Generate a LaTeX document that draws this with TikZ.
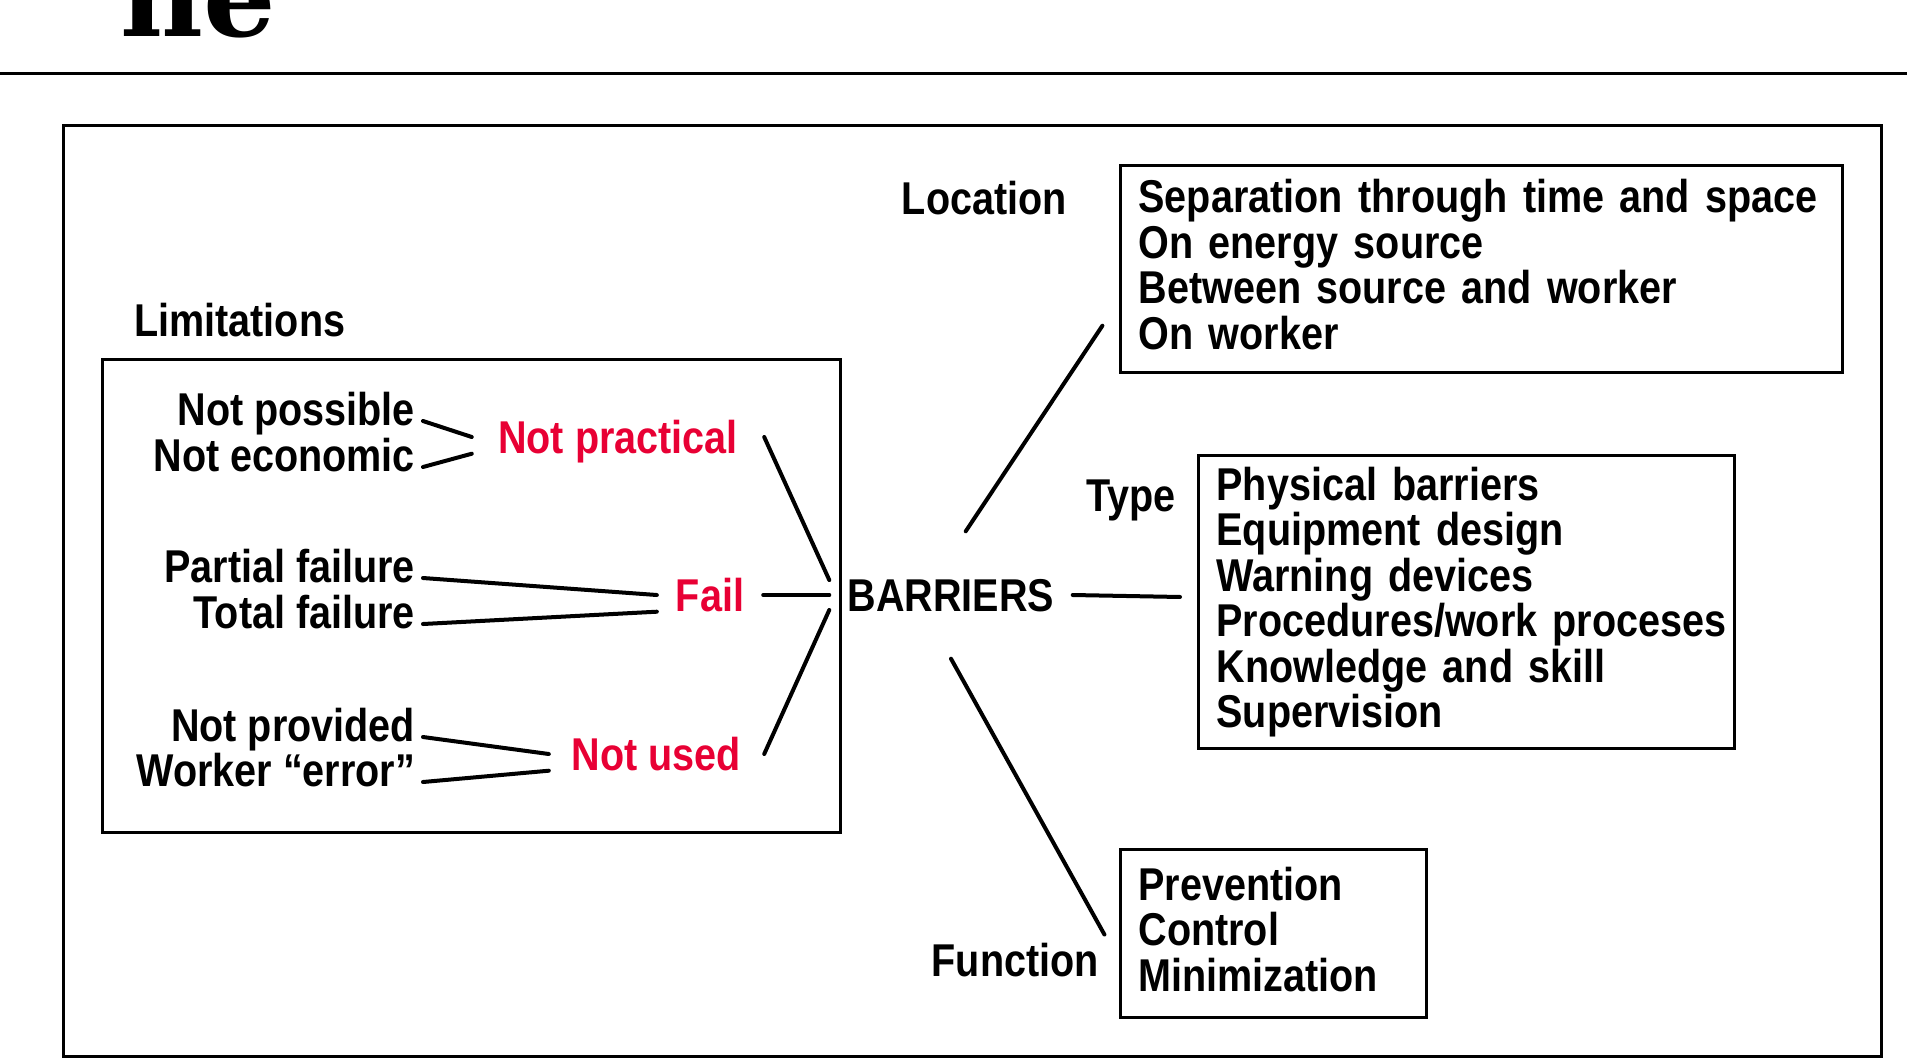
\documentclass[tikz,border=0pt]{standalone}
\usepackage{fontspec}
\setmainfont{Liberation Sans}[FakeStretch=0.86]
\newfontfamily\titlefont{DejaVu Serif}
\definecolor{barred}{RGB}{232,0,52}
\begin{document}
\begin{tikzpicture}[x=1pt,y=-1pt,
  every node/.style={font=\bfseries\fontsize{46}{45.5}\selectfont},
  item/.style={anchor=base east,text height=18pt,text depth=9pt,inner sep=0pt,outer xsep=8pt},
  why/.style={anchor=base,text=barred,text height=33pt,text depth=0pt,inner sep=0pt},
  head/.style={inner sep=0pt},
  list/.style={draw,line width=3pt,anchor=north west,align=left,inner xsep=18pt,inner ysep=0pt,
    execute at end node={\rule[-9pt]{0pt}{9pt}}},
  conn/.style={line width=4pt,line cap=round}]
\useasboundingbox (0,0) rectangle (1907,1061);
% slide title (cut off at the top) and rule
\node[anchor=base west,inner sep=0pt,font=\titlefont\bfseries\fontsize{114}{114}\selectfont] (title) at (120,36) {ne};
\draw[line width=3pt] (0,73) -- (1907,73);
\draw[line width=3pt] (63,125) rectangle (1881,1056);
% limitations side
\node[head,anchor=base west] (limits) at (134,336.5) {Limitations};
\draw[line width=3pt] (102,359) rectangle (840,832);
\node[item] (nposs) at (423,425.5) {Not possible};
\node[item] (necon) at (423,471.5) {Not economic};
\node[item] (pfail) at (423,582.5) {Partial failure};
\node[item] (tfail) at (423,628.5) {Total failure};
\node[item] (nprov) at (423,741.5) {Not provided};
\node[item] (werr) at (423,786.5) {Worker “error”};
\node[why,minimum width=292pt] (prac) at (618,453.5) {Not practical};
\node[why,minimum width=106pt] (fail) at (710,611.5) {Fail};
\node[why,minimum width=215pt] (nused) at (656.5,770.5) {Not used};
\draw[conn] (nposs.east) -- (prac.west);
\draw[conn] (necon.east) -- (prac.south west);
\draw[conn] (pfail.east) -- (fail.west);
\draw[conn] (tfail.east) -- (fail.south west);
\draw[conn] (nprov.east) -- (nused.west);
\draw[conn] (werr.east) -- (nused.south west);
% centre
\node[inner sep=0pt,minimum width=243pt,minimum height=127pt,text height=33pt,text depth=0pt] (barriers) at (951,595) {BARRIERS};
\draw[conn] (prac.east) -- (barriers.173);
\draw[conn] (fail.east) -- (barriers.west);
\draw[conn] (nused.east) -- (barriers.187);
% the three ways of sorting barriers
\node[head,anchor=base east] (loc) at (1067,214.5) {Location};
\node[list,text width=686pt,minimum height=207pt] (locbox) at (1119,164) {Separation through time and space\\On energy source\\Between source and worker\\On worker};
\node[head,anchor=base east] (typ) at (1176,511.5) {Type};
\node[list,text width=500pt,minimum height=293pt] (typebox) at (1197,454) {Physical barriers\\Equipment design\\Warning devices\\\mbox{Procedures/work proceses}\\Knowledge and skill\\Supervision};
\node[head,anchor=base east] (func) at (1099,976.5) {Function};
\node[list,text width=270pt,minimum height=168pt] (funcbox) at (1119,848) {Prevention\\Control\\Minimization};
\draw[conn,shorten >=30pt] (barriers.77) -- (locbox.185);
\draw[conn,shorten >=17pt] (barriers.east) -- (typebox.179);
\draw[conn,shorten >=30pt] (barriers.south) -- (funcbox.190);
\end{tikzpicture}
\end{document}
